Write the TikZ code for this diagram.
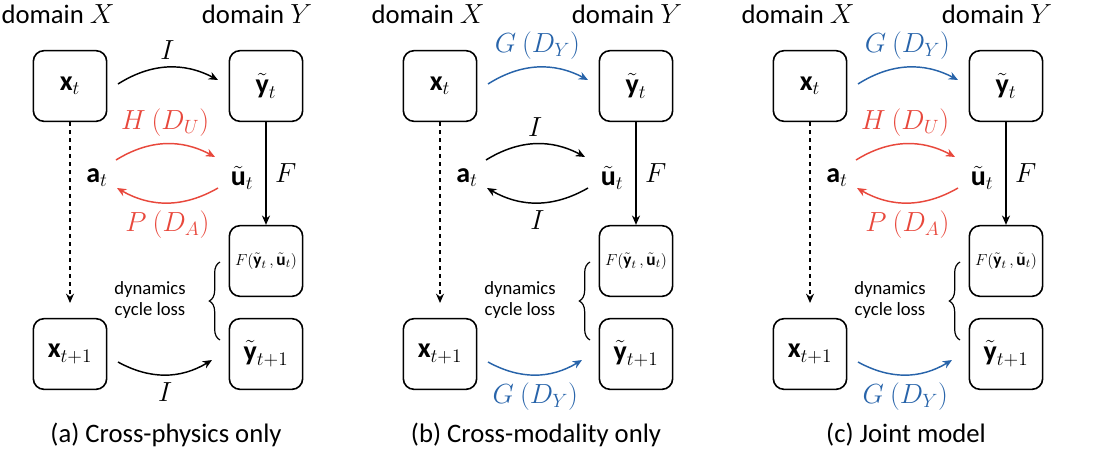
\documentclass[tikz,border=0pt]{standalone}
\usepackage{fontspec}
\setmainfont{Carlito}
\usetikzlibrary{arrows.meta,decorations.pathreplacing}
\definecolor{myred}{RGB}{232,72,60}
\definecolor{myblue}{RGB}{40,100,170}
\newcommand{\bx}[1]{\textbf{#1}}
\newcommand{\mypanel}[8]{%
\begin{scope}[xshift=#1*0.75pt]
\node[lbl] (#8dx) at (58,14) {domain $X$};
\node[lbl] (#8dy) at (257,14) {domain $Y$};
\node[box] (#8xt) at (70,86) {\bx{x}$_t$};
\node[box] (#8yt) at (266,86) {$\tilde{\mbox{\bx{y}}}_t$};
\node[var] (#8at) at (97,178) {\bx{a}$_t$};
\node[var] (#8ut) at (242,178) {$\tilde{\mbox{\bx{u}}}_t$};
\node[box] (#8F) at (266,261) {\fontsize{13}{15}\selectfont $F(\tilde{\mbox{\bx{y}}}_t\,,\tilde{\mbox{\bx{u}}}_t)$};
\node[box] (#8yt1) at (266,354) {$\tilde{\mbox{\bx{y}}}_{t+1}$};
\node[box] (#8xt1) at (70,354) {\bx{x}$_{t+1}$};
\coordinate (#8d) at (70,303);
\draw[arr,dashed] (#8xt) -- (#8d);
\draw[arr] (#8yt) -- (#8F) node[midway,right=3pt,lbl] {$F$};
\draw[arr,#2] (118,84) to[bend left=30] node[above=2pt,lbl] {#3} (218,80);
\draw[arr,#2] (118,362) to[bend right=30] node[below=2pt,lbl] {#3} (212,360);
\draw[arr,#4] (116,160) to[bend left=30] node[above=2pt,lbl] {#5} (215,157);
\draw[arr,#4] (218,188) to[bend left=30] node[below=2pt,lbl] {#6} (117,188);
\draw[decorate,decoration={brace,amplitude=8pt},line width=0.9pt] (220,340) -- (220,262);
\node[font=\fontsize{14}{16}\selectfont,align=center] (#8dc) at (150,300) {dynamics\\cycle loss};
\node[font=\fontsize{20}{24}\selectfont] (#8cap) at (166,435) {#7};
\end{scope}}
\begin{document}
\begin{tikzpicture}[x=0.75pt,y=-0.75pt,
 box/.style={draw,line width=1.2pt,rounded corners=8pt,minimum width=55pt,minimum height=53pt,inner sep=1pt,font=\fontsize{21}{24}\selectfont},
 var/.style={font=\fontsize{21}{24}\selectfont},
 lbl/.style={font=\fontsize{20}{24}\selectfont},
 arr/.style={-{Stealth[length=7pt,width=6pt]},line width=1.1pt}]
\useasboundingbox (0,0) rectangle (1104,457);
\mypanel{0}{black}{$I$}{myred}{$H\ (D_U)$}{$P\ (D_A)$}{(a) Cross-physics only}{a}
\mypanel{370}{myblue}{$G\ (D_Y)$}{black}{$I$}{$I$}{(b) Cross-modality only}{b}
\mypanel{740}{myblue}{$G\ (D_Y)$}{myred}{$H\ (D_U)$}{$P\ (D_A)$}{(c) Joint model}{c}
\end{tikzpicture}
\end{document}
